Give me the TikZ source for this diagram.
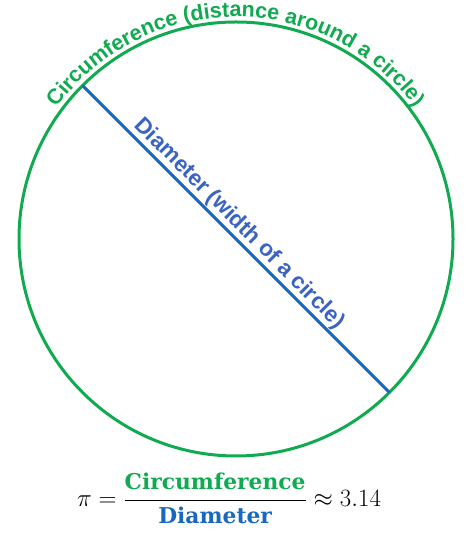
\documentclass[tikz,border=0pt]{standalone}
\usepackage{fontspec}
\usetikzlibrary{decorations.text}
\newfontfamily\labelsans{Liberation Sans}
\newfontfamily\wordserif{DejaVu Serif}
\definecolor{cgreen}{RGB}{16,170,80}
\definecolor{cblue}{RGB}{25,104,190}
\definecolor{clabel}{RGB}{58,100,196}
\newcommand\fracword[2]{\mbox{\color{#1}\fontsize{21.8}{26}\selectfont\wordserif\bfseries #2}}

\begin{document}
\begin{tikzpicture}[x=1pt,y=1pt,
    rim/.style={circle, draw=cgreen, line width=3pt, inner sep=0pt,
        outer sep=0pt, minimum size=434pt},
    diam/.style={draw=cblue, line width=3pt},
    lbl/.style={font=\fontsize{22.5}{26}\selectfont\labelsans\bfseries}]

    \useasboundingbox (0,0) rectangle (474,534);
    \node[rim] (C) at (236,295) {};
    \coordinate (A) at (C.135);
    \coordinate (B) at (C.-45);
    \draw[diam] (A) -- node[sloped, above, pos=0.48, inner sep=1pt, lbl,
        text=clabel] {Diameter (width of a circle)} (B);
    \path[decorate, decoration={text along path, text align=center,
        text={|\fontsize{21.5}{25}\selectfont\labelsans\bfseries\color{cgreen}|Circumference (distance around a circle)}}]
        ([shift={(165:222)}]C.center) arc[start angle=165, end angle=15, radius=222];
    \node[font=\fontsize{27}{31}\selectfont, anchor=base] (F) at (229,27.5)
        {$\pi = \displaystyle\frac{\fracword{cgreen}{Circumference}}{\fracword{cblue}{Diameter}} \approx 3.14$};
  \end{tikzpicture}
\end{document}
